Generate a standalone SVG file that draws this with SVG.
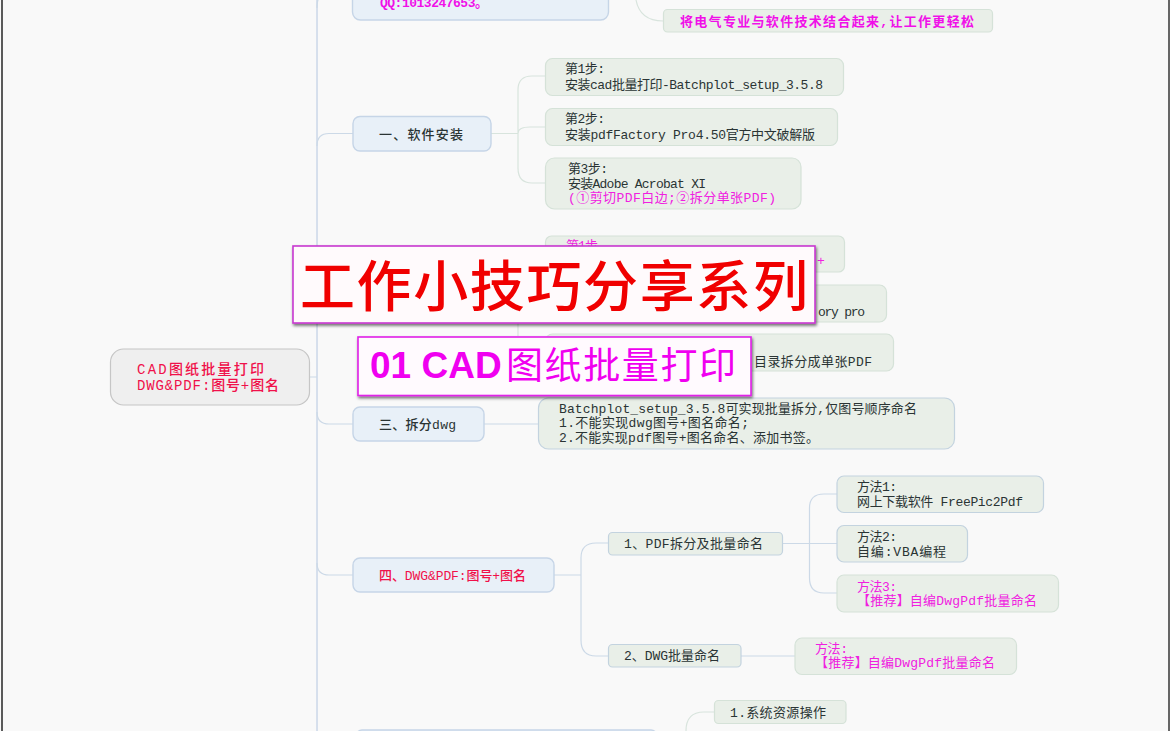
<svg xmlns="http://www.w3.org/2000/svg" width="1170" height="731" viewBox="0 0 1170 731">
<defs>
<style>
text{font-family:"Liberation Mono","Noto Sans CJK SC",monospace;font-size:13px;fill:#2a3434;white-space:pre}
.g{fill:#e9efe8;stroke:#d5e2d8;stroke-width:1.2}
.gb{fill:#e9efe8;stroke:#c3d3df;stroke-width:1.2}
.b{fill:#e8f0f8;stroke:#c6d5e7;stroke-width:1.4}
.c{fill:none;stroke:#ccd9e7;stroke-width:1.2}
.cg{fill:none;stroke:#d8e4dd;stroke-width:1.2}
.m{fill:#f020e0}
.mb{fill:#f010e8;font-weight:700}
.r{fill:#f0104a;font-weight:500}
.d{font-weight:500}
</style>
<filter id="sh" x="-5%" y="-10%" width="110%" height="125%"><feDropShadow dx="1" dy="2" stdDeviation="1.5" flood-color="#000" flood-opacity=".55"/></filter>
</defs>
<rect width="1170" height="731" fill="#f9f9f9"/>
<rect x="1" y="0" width="2" height="731" fill="#5a5a5a"/>
<rect x="1168" y="0" width="2" height="731" fill="#666"/>
<g id="connectors">
<path class="c" style="stroke:#b4c6e0;stroke-width:1" d="M317 0V731"/>
<path class="c" d="M310 377H317M317 8Q317 0 319 -2M353 133.500H329Q317 133.500 317 146M353 424H329Q317 424 317 412M353 575H329Q317 575 317 563"/>
<path class="cg" d="M491 133.500H518M545 76H532Q518 76 518 90V168Q518 183 532 183H545M518 133.500Q518 127 530 127H545"/>
<path class="cg" d="M636 0Q640 21 663 21"/>
<path class="cg" d="M518 320V336"/>
<path class="c" d="M484 424H538"/>
<path class="c" d="M554 575H581M608 543H596Q581 543 581 558V640Q581 656 596 656H608"/>
<path class="c" d="M783 543.500H837M837 494H824Q809.500 494 809.500 508V578Q809.500 593 824 593H837"/>
<path class="c" d="M741 656H795"/>
<path class="cg" d="M714 712H704Q686 712 686 731"/>
</g>
<g id="root"><rect x="110.500" y="349" width="199" height="56" rx="13" fill="#efefef" stroke="#c6c6c6" stroke-width="1.200"/>
<text class="r" style="font-size:14px" x="137" y="373.500" textLength="127">CAD图纸批量打印</text><text class="r" style="font-size:14px" x="137" y="389.500" textLength="142">DWG&amp;PDF:图号+图名</text></g>
<g id="n0"><rect class="b" x="352.500" y="-30" width="256" height="50" rx="8"/><text class="mb" x="380" y="7" textLength="108">QQ:1013247653。</text></g>
<g id="n0a"><rect class="g" x="663.500" y="9.500" width="329" height="22.500" rx="4"/><text class="mb" x="680" y="25.500" textLength="294">将电气专业与软件技术结合起来,让工作更轻松</text></g>
<g id="n1"><rect class="b" x="353" y="116.500" width="138" height="34.500" rx="7"/><text class="d" x="379" y="138.500" textLength="84">一、软件安装</text></g>
<g id="n1a"><rect class="g" x="545.500" y="58.500" width="298" height="37" rx="7"/><text x="565" y="73" textLength="40">第1步:</text><text x="565" y="88.500" textLength="258">安装cad批量打印-Batchplot_setup_3.5.8</text></g>
<g id="n1b"><rect class="g" x="545.500" y="108.500" width="292" height="37" rx="7"/><text x="565" y="123" textLength="40">第2步:</text><text x="565" y="138.500" textLength="250">安装pdfFactory Pro4.50官方中文破解版</text></g>
<g id="n1c"><rect class="g" x="545.500" y="158" width="255.500" height="51" rx="9"/><text x="568" y="173" textLength="40">第3步:</text><text x="568" y="188" textLength="138">安装Adobe Acrobat XI</text><text class="m" x="568" y="202" textLength="208">(①剪切PDF白边;②拆分单张PDF)</text></g>
<g id="n2a"><rect class="g" x="545.500" y="236" width="299" height="36" rx="6"/><text class="m" x="566" y="250" textLength="32">第1步</text><text class="m" x="817" y="265">+</text></g>
<g id="n2b"><rect class="g" x="545.500" y="285" width="341" height="37" rx="7"/><text x="818" y="316" textLength="47">ory pro</text></g>
<g id="n2c"><rect class="g" x="545.500" y="334" width="348" height="37" rx="7"/><text x="754" y="365.500" textLength="118">目录拆分成单张PDF</text></g>
<g id="n3"><rect class="b" x="353" y="407" width="131" height="34" rx="7"/><text class="d" x="379" y="428.500" textLength="77">三、拆分dwg</text></g>
<g id="n3a"><rect class="gb" x="538.500" y="398" width="416" height="51" rx="10"/><text x="559" y="412.500" textLength="358">Batchplot_setup_3.5.8可实现批量拆分,仅图号顺序命名</text><text x="559" y="427" textLength="190">1.不能实现dwg图号+图名命名;</text><text x="559" y="441.500" textLength="260">2.不能实现pdf图号+图名命名、添加书签。</text></g>
<g id="n4"><rect class="b" x="353" y="558" width="201" height="34" rx="7"/><text class="r" x="379" y="579.500" textLength="147">四、DWG&amp;PDF:图号+图名</text></g>
<g id="n4a"><rect class="gb" x="608.500" y="532.500" width="174" height="22.500" rx="4"/><text x="624" y="547.500" textLength="139">1、PDF拆分及批量命名</text></g>
<g id="n4a1"><rect class="gb" x="837" y="476" width="206.500" height="36.500" rx="7"/><text x="857" y="491" textLength="40">方法1:</text><text x="857" y="505.500" textLength="166">网上下载软件 FreePic2Pdf</text></g>
<g id="n4a2"><rect class="gb" x="837" y="525.500" width="130.500" height="36.500" rx="7"/><text x="857" y="541" textLength="40">方法2:</text><text x="857" y="555.500" textLength="89">自编:VBA编程</text></g>
<g id="n4a3"><rect class="g" x="837" y="575" width="221.500" height="37" rx="7"/><text class="m" x="857" y="590.500" textLength="40">方法3:</text><text class="m" x="857" y="604.500" textLength="180">【推荐】自编DwgPdf批量命名</text></g>
<g id="n4b"><rect class="gb" x="608.500" y="644.500" width="132.500" height="22.500" rx="4"/><text x="624" y="659.500" textLength="96">2、DWG批量命名</text></g>
<g id="n4b1"><rect class="g" x="795" y="638" width="221.500" height="36.500" rx="7"/><text class="m" x="815" y="652.500" textLength="33">方法:</text><text class="m" x="815" y="666.500" textLength="180">【推荐】自编DwgPdf批量命名</text></g>
<g id="n5"><rect class="b" x="356" y="730" width="301" height="30" rx="6"/></g>
<g id="n5a"><rect class="g" x="714.500" y="700.500" width="131.500" height="23" rx="4"/><text x="730" y="716.500" textLength="96">1.系统资源操作</text></g>
<g id="title1"><rect x="293" y="246" width="522" height="77" fill="#fffafc" stroke="#c838d0" stroke-width="1.600" filter="url(#sh)"/><text x="300" y="306" textLength="508" style="font-family:'Noto Sans CJK SC',sans-serif;font-size:55px;font-weight:500;fill:#f00000">工作小技巧分享系列</text></g>
<g id="title2"><rect x="358" y="337" width="393" height="58.500" fill="#fffafe" stroke="#e020e8" stroke-width="1.600" filter="url(#sh)"/><text x="370" y="378" style="font-family:'Liberation Sans',sans-serif;font-size:37px;font-weight:700;fill:#f000f0">01 CAD</text><text x="506" y="379" textLength="230" style="font-family:'Noto Sans CJK SC',sans-serif;font-size:37px;font-weight:400;fill:#f000f0">图纸批量打印</text></g>
</svg>
